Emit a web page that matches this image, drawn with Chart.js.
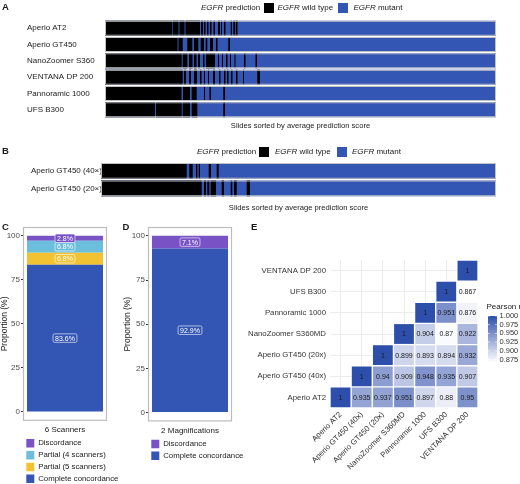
<!DOCTYPE html>
<html>
<head>
<meta charset="utf-8">
<script src="https://cdn.jsdelivr.net/npm/chart.js@4.4.1/dist/chart.umd.min.js"></script>
<style>
  html, body { margin: 0; padding: 0; background: #fff; }
  #fig { position: relative; width: 520px; height: 484px; overflow: hidden; font-family: "Liberation Sans", Arial, sans-serif; color: #1a1a1a; }
  #fig canvas { position: absolute; }
  .tag { position: absolute; font-weight: bold; font-size: 9.5px; line-height: 10px; }
  .leg { position: absolute; font-size: 8px; line-height: 10px; white-space: nowrap; }
  .key { position: absolute; width: 10px; height: 10px; }
</style>
</head>
<body>
<div id="fig">
  <canvas id="chartA" width="520" height="135" style="left:0;top:0"></canvas>
  <canvas id="chartB" width="520" height="80" style="left:0;top:135px"></canvas>
  <canvas id="chartC" width="130" height="278" style="left:0;top:215px"></canvas>
  <canvas id="chartD" width="140" height="255" style="left:123px;top:215px"></canvas>
  <canvas id="chartE" width="275" height="269" style="left:245px;top:215px"></canvas>

  <div class="tag" style="left:2px;top:2px">A</div>
  <div class="tag" style="left:2px;top:145.5px">B</div>
  <div class="tag" style="left:2px;top:221.5px">C</div>
  <div class="tag" style="left:122.5px;top:221.5px">D</div>
  <div class="tag" style="left:251px;top:222px">E</div>

  <div class="leg" style="left:201px;top:3px"><i>EGFR</i> prediction</div>
  <div class="key" style="left:264px;top:3px;background:#000"></div>
  <div class="leg" style="left:277.5px;top:3px"><i>EGFR</i> wild type</div>
  <div class="key" style="left:337.5px;top:3px;background:#3355b3"></div>
  <div class="leg" style="left:353.5px;top:3px"><i>EGFR</i> mutant</div>

  <div class="leg" style="left:197px;top:147px"><i>EGFR</i> prediction</div>
  <div class="key" style="left:259px;top:147px;background:#000"></div>
  <div class="leg" style="left:275px;top:147px"><i>EGFR</i> wild type</div>
  <div class="key" style="left:336.5px;top:147px;background:#3355b3"></div>
  <div class="leg" style="left:352px;top:147px"><i>EGFR</i> mutant</div>
</div>
<script>
// ---- data ----
const scannersA = ["Aperio AT2", "Aperio GT450", "NanoZoomer S360", "VENTANA DP 200", "Pannoramic 1000", "UFS B300"];
const slidesA = 391;
// slide-rank ranges predicted EGFR wild type (everything else mutant)
const wildTypeA = [
  [[0,67],[67.7,73.5],[74.5,79.5],[80.5,95],[96,98],[99,100.5],[102,103.5],[105,106.5],[108.5,110],[113,115],[116,117],[119,120.5],[125.7,127],[128.3,130],[130.8,132.5]],
  [[0,72.5],[73.5,77.7],[82.3,87.3],[89,93.3],[95.7,99],[100.7,102.3],[105,108],[111,112.5],[123.3,125]],
  [[0,76.7],[77.7,82.3],[84,87.5],[89,91.5],[93,95],[98,99.5],[101,110],[113,114],[117,118],[121,122.5],[125,126],[129.5,130.5],[139,140.5],[150.5,152]],
  [[0,77.7],[79,81],[84,86],[89,92],[95,96.5],[99,100],[103,104],[108,110],[114,115.5],[119,120.5],[122,123.5],[126,127.5],[131,132.5],[138,139],[152.3,155]],
  [[0,76.5],[78,85],[86.7,91.7],[99,100],[104.5,106],[118.3,120]],
  [[0,50],[51,76.7],[77.7,85],[86.7,92.3],[118.3,120]]
];

const magsB = ["Aperio GT450 (40×)", "Aperio GT450 (20×)"];
const slidesB = 395;
const wildTypeB = [
  [[0,85.7],[88.3,91.7],[95,96.3],[97.7,99],[107.7,110],[115.7,117.7]],
  [[0,100.7],[103,105],[106.3,108.3],[109.7,115],[120.7,123],[129.7,131.3],[133,135.7],[145.7,149]]
];

const groupsC = ["Complete concordance", "Partial (5 scanners)", "Partial (4 scanners)", "Discordance"];
const pctC = [83.6, 6.8, 6.8, 2.8];
const groupsD = ["Complete concordance", "Discordance"];
const pctD = [92.9, 7.1];
const propTicks = [0, 25, 50, 75, 100];

const platformsE = ["Aperio AT2", "Aperio GT450 (40x)", "Aperio GT450 (20x)", "NanoZoomer S360MD", "Pannoramic 1000", "UFS B300", "VENTANA DP 200"];
// row r holds correlations with columns r..6
const pearsonE = [
  [1, 0.935, 0.937, 0.951, 0.897, 0.88, 0.95],
  [1, 0.94, 0.909, 0.948, 0.935, 0.907],
  [1, 0.899, 0.893, 0.894, 0.932],
  [1, 0.904, 0.87, 0.922],
  [1, 0.951, 0.876],
  [1, 0.867],
  [1]
];
const pearsonTicks = [1, 0.975, 0.95, 0.925, 0.9, 0.875];

// ---- style ----
const blue = "#3355b3";
const wtBlack = "#000000";
const colorsC = [blue, "#f2c232", "#6bbfdd", "#7952c6"];
const colorsD = [blue, "#7952c6"];
const highE = [46, 78, 172];

Chart.defaults.font.family = '"Liberation Sans", Arial, sans-serif';
Chart.defaults.color = "#1a1a1a";

function stripChart(id, rows, total, runs, o) {
  const common = { grouped: false, categoryPercentage: 1, barPercentage: o.bar, borderSkipped: false };
  const wt = [];
  runs.forEach((list, i) => list.forEach(([a, b]) => wt.push({ y: rows[i], x: [a, b] })));
  return new Chart(document.getElementById(id), {
    type: "bar",
    data: {
      labels: rows,
      datasets: [
        { ...common, label: "frame", data: rows.map(r => ({ y: r, x: [0, total] })),
          backgroundColor: "rgba(0,0,0,0)", borderColor: "#c2c2c2", borderWidth: 1 },
        { ...common, label: "EGFR wild type", data: wt, backgroundColor: wtBlack, borderWidth: 0 },
        { ...common, label: "EGFR mutant", data: rows.map(r => ({ y: r, x: [0, total] })),
          backgroundColor: blue, borderWidth: 0 }
      ]
    },
    options: {
      indexAxis: "y", responsive: false, animation: false, devicePixelRatio: 1,
      layout: { padding: o.pad },
      plugins: { legend: { display: false }, tooltip: { enabled: false } },
      scales: {
        x: {
          type: "linear", min: 0, max: total,
          ticks: { display: false }, grid: { display: false }, border: { display: false },
          title: { display: true, text: "Slides sorted by average prediction score",
                   font: { size: 7.6 }, padding: { top: 0, bottom: o.titlePad } },
          afterFit: s => { s.height = o.xh; }
        },
        y: {
          type: "category", grid: { display: false }, border: { display: false },
          ticks: { crossAlign: "far", font: { size: 8 }, color: "#1a1a1a" },
          afterFit: s => { s.width = o.yw; }
        }
      }
    }
  });
}

stripChart("chartA", scannersA, slidesA, wildTypeA,
  { bar: 0.92, pad: { left: 27, right: 24, top: 20, bottom: 0 }, xh: 17, yw: 78, titlePad: 4.5 });
stripChart("chartB", magsB, slidesB, wildTypeB,
  { bar: 0.9, pad: { left: 31, right: 24, top: 27.2, bottom: 0 }, xh: 17.8, yw: 70, titlePad: 2.5 });

const panelBox = {
  id: "panelBox",
  afterDraw(chart) {
    const { ctx, chartArea: a } = chart;
    ctx.save();
    ctx.strokeStyle = "#bdbdbd";
    ctx.lineWidth = 1.2;
    ctx.strokeRect(a.left + 0.5, a.top + 0.5, a.right - a.left - 1, a.bottom - a.top - 1);
    ctx.restore();
  }
};

// legend sits under the panel but its labels run past the panel's right edge
const widenLegend = {
  id: "widenLegend",
  afterLayout(chart) {
    const lg = chart.legend;
    if (!lg) return;
    lg.right = chart.width;
    lg.width = lg.right - lg.left;
  }
};

const segmentLabels = {
  id: "segmentLabels",
  afterDatasetsDraw(chart) {
    const ctx = chart.ctx;
    ctx.save();
    ctx.font = '7px "Liberation Sans", Arial, sans-serif';
    ctx.textAlign = "center";
    ctx.textBaseline = "middle";
    chart.data.datasets.forEach((ds, i) => {
      const el = chart.getDatasetMeta(i).data[0];
      const txt = ds.data[0].toFixed(1) + "%";
      const cy = (el.y + el.base) / 2;
      const w = ctx.measureText(txt).width + 4, h = 8.5;
      ctx.beginPath();
      ctx.roundRect(el.x - w / 2, cy - h / 2, w, h, 1.5);
      ctx.fillStyle = ds.backgroundColor;
      ctx.fill();
      ctx.strokeStyle = "rgba(255,255,255,0.75)";
      ctx.lineWidth = 0.8;
      ctx.stroke();
      ctx.fillStyle = "#ffffff";
      ctx.fillText(txt, el.x, cy + 0.5);
    });
    ctx.restore();
  }
};

function concordChart(id, xLabel, names, values, colors, yw) {
  const el = document.getElementById(id);
  return new Chart(el, {
    type: "bar",
    data: {
      labels: [xLabel],
      datasets: names.map((n, i) => ({
        label: n, data: [values[i]], backgroundColor: colors[i],
        categoryPercentage: 0.905, barPercentage: 1, borderWidth: 0
      }))
    },
    options: {
      responsive: false, animation: false, devicePixelRatio: 1,
      layout: { padding: { top: 12, right: el.width - yw - 84, left: 0, bottom: 0 } },
      plugins: {
        tooltip: { enabled: false },
        legend: {
          position: "bottom", align: "start", fullSize: false, reverse: true,
          labels: { boxWidth: 8, boxHeight: 8.5, padding: 3.3, font: { size: 7.8 }, color: "#1a1a1a" }
        }
      },
      scales: {
        x: {
          stacked: true, grid: { display: false }, border: { display: false },
          ticks: { display: false },
          title: { display: true, text: xLabel, font: { size: 8 }, color: "#1a1a1a", padding: { top: 0, bottom: 1.2 } },
          afterFit: s => { s.height = 15; }
        },
        y: {
          stacked: true, min: -5, max: 105,
          afterBuildTicks: s => { s.ticks = propTicks.map(v => ({ value: v })); },
          grid: { drawOnChartArea: false, tickLength: 2, color: "#333333" },
          border: { display: false },
          ticks: { font: { size: 8 }, color: "#4d4d4d", padding: 1 },
          title: { display: true, text: "Proportion (%)", font: { size: 8.5 }, padding: 0, color: "#1a1a1a" },
          afterFit: s => { s.width = yw; }
        }
      }
    },
    plugins: [panelBox, segmentLabels, widenLegend]
  });
}

concordChart("chartC", "6 Scanners", groupsC, pctC, colorsC, 23);
concordChart("chartD", "2 Magnifications", groupsD, pctD, colorsD, 25);

// ---- heatmap E ----
const minE = Math.min(...pearsonE.flat());
const maxE = 1;
function fillE(v) {
  const t = (v - minE) / (maxE - minE);
  const c = highE.map(h => Math.round(255 + (h - 255) * t));
  return "rgb(" + c.join(",") + ")";
}
const cellsE = [];
pearsonE.forEach((row, r) => row.forEach((v, k) => {
  cellsE.push({ x: platformsE[r + k], y: [r - 0.5, r + 0.5], v: v });
}));

const cellText = {
  id: "cellText",
  afterDatasetsDraw(chart) {
    const ctx = chart.ctx;
    ctx.save();
    ctx.font = '7px "Liberation Sans", Arial, sans-serif';
    ctx.textAlign = "center";
    ctx.textBaseline = "middle";
    ctx.fillStyle = "#1a1a1a";
    chart.getDatasetMeta(0).data.forEach((el, i) => {
      const v = cellsE[i].v;
      ctx.fillText(v === 1 ? "1" : String(v), el.x, (el.y + el.base) / 2 + 0.5);
    });
    ctx.restore();
  }
};

const colorBar = {
  id: "colorBar",
  afterDraw(chart) {
    const { ctx, chartArea: a } = chart;
    const bx = a.right + 10, by = a.top + 56, bw = 9, bh = 46.3;
    ctx.save();
    const g = ctx.createLinearGradient(0, by, 0, by + bh);
    g.addColorStop(0, fillE(maxE));
    g.addColorStop(1, fillE(minE));
    ctx.fillStyle = g;
    ctx.fillRect(bx, by, bw, bh);
    ctx.font = '8px "Liberation Sans", Arial, sans-serif';
    ctx.fillStyle = "#1a1a1a";
    ctx.textAlign = "left";
    ctx.textBaseline = "middle";
    ctx.fillText("Pearson r", bx - 1.5, by - 9);
    ctx.font = '7.5px "Liberation Sans", Arial, sans-serif';
    ctx.fillStyle = "#333333";
    pearsonTicks.forEach(v => {
      const y = by + (maxE - v) / (maxE - minE) * bh;
      ctx.strokeStyle = "#ffffff";
      ctx.lineWidth = 0.6;
      ctx.beginPath();
      ctx.moveTo(bx, y); ctx.lineTo(bx + 2, y);
      ctx.moveTo(bx + bw - 2, y); ctx.lineTo(bx + bw, y);
      ctx.stroke();
      ctx.fillText(v.toFixed(3), bx + bw + 2.5, y);
    });
    ctx.restore();
  }
};

new Chart(document.getElementById("chartE"), {
  type: "bar",
  data: {
    labels: platformsE,
    datasets: [{
      label: "Pearson r", data: cellsE,
      backgroundColor: c => fillE(c.raw.v),
      borderColor: "rgba(255,255,255,0.6)", borderWidth: 1, borderSkipped: false,
      categoryPercentage: 1, barPercentage: 1
    }]
  },
  options: {
    responsive: false, animation: false, devicePixelRatio: 1,
    layout: { padding: { top: 45, right: 42, left: 0, bottom: 0 } },
    plugins: { legend: { display: false }, tooltip: { enabled: false } },
    scales: {
      x: {
        type: "category",
        grid: { offset: false, color: "#ececec", drawTicks: false },
        border: { display: false },
        ticks: { maxRotation: 45, minRotation: 45, autoSkip: false, font: { size: 7.8 }, color: "#333333", padding: 2 },
        afterFit: s => { s.height = 76; }
      },
      y: {
        type: "linear", min: -0.5, max: 6.5,
        afterBuildTicks: s => { s.ticks = platformsE.map((p, i) => ({ value: i })); },
        grid: { color: "#ececec", drawTicks: false },
        border: { display: false },
        ticks: { callback: v => platformsE[v], font: { size: 7.8 }, color: "#333333", padding: 4 },
        afterFit: s => { s.width = 85; }
      }
    }
  },
  plugins: [cellText, colorBar]
});
</script>
</body>
</html>
